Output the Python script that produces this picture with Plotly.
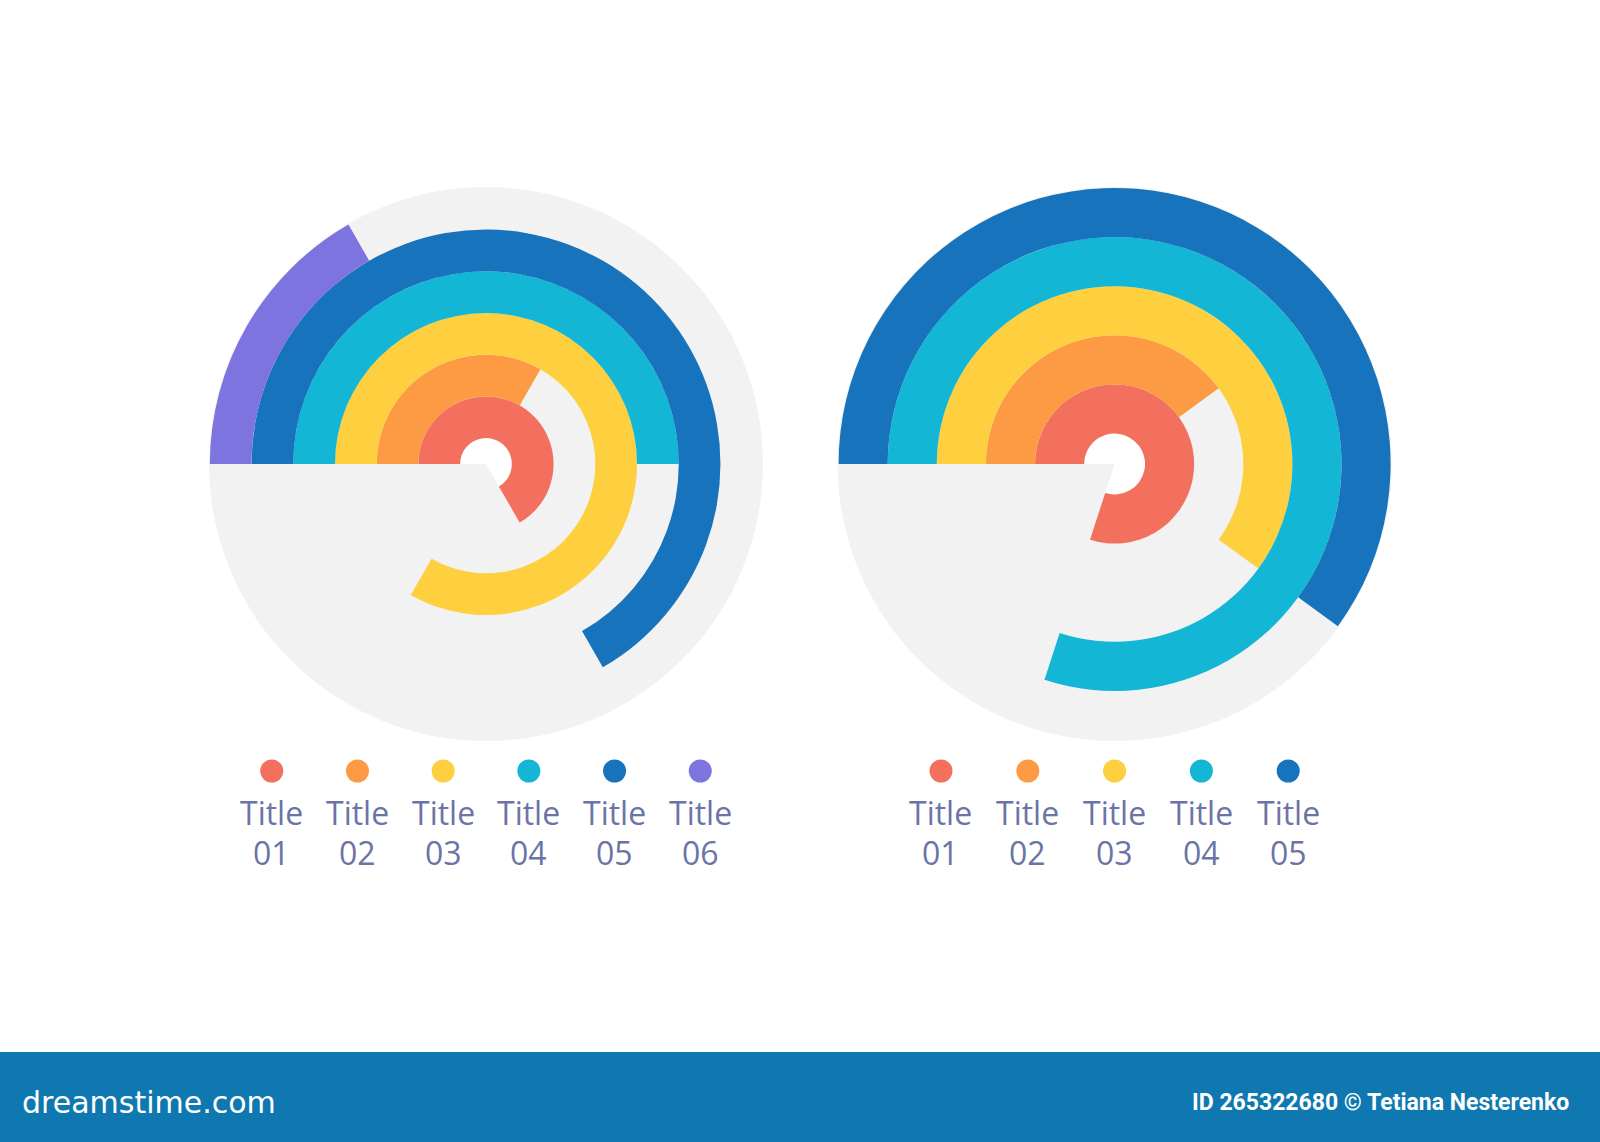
import plotly.graph_objects as go

# ---------------- data ----------------
left_labels = ["01", "02", "03", "04", "05", "06"]
left_values = [66.7, 33.3, 83.3, 50.0, 66.7, 16.7]      # share of full circle, %
right_labels = ["01", "02", "03", "04", "05"]
right_values = [80.0, 40.0, 60.0, 80.0, 60.0]            # share of full circle, %
series_title = "Title"

colors = ["#f4705e", "#fd9a44", "#fecf3f", "#14b6d6", "#1873bd", "#7d74e0"]

# ---------------- styling ----------------
W, H = 1600, 1142
HOLE = 0.62          # inner hole radius, in ring-width units
GRAY = "#f2f2f2"
TEXT = "#6b74a6"
FONT = "Open Sans"

fig = go.Figure()


def add_chart(values, polar_id):
    spans = [v / 100.0 * 360.0 for v in values]
    n = len(values)
    # white hole wedge under the innermost ring
    fig.add_trace(go.Barpolar(
        r=[HOLE], base=[0], theta=[spans[0] / 2], width=[spans[0]],
        marker=dict(color="#ffffff", line=dict(width=0)),
        subplot=polar_id, showlegend=False, hoverinfo="skip"))
    fig.add_trace(go.Barpolar(
        r=[1] * n,
        base=[HOLE + i for i in range(n)],
        theta=[s / 2 for s in spans],
        width=spans,
        marker=dict(color=colors[:n], line=dict(width=0)),
        subplot=polar_id, showlegend=False,
        hovertemplate="%{customdata}%<extra></extra>", customdata=values))
    return HOLE + n


def polar_layout(domain_x, domain_y, rmax):
    hidden = dict(showline=False, showgrid=False, showticklabels=False, ticks="")
    return dict(
        domain=dict(x=domain_x, y=domain_y),
        bgcolor=GRAY, barmode="overlay",
        angularaxis=dict(rotation=180, direction="clockwise", **hidden),
        radialaxis=dict(range=[0, rmax + 0.02], **hidden),
    )


R_PX = 277
cx_l, cx_r, cy = 486, 1114.6, 464

rl = add_chart(left_values, "polar")
rr = add_chart(right_values, "polar2")


def dom(cx):
    return [(cx - R_PX) / W, (cx + R_PX) / W]


ydom = [(H - cy - R_PX) / H, (H - cy + R_PX) / H]

# ---------------- legends ----------------
def add_legend(labels, xa, ya):
    n = len(labels)
    fig.add_trace(go.Scatter(
        x=list(range(n)), y=[0] * n, mode="markers",
        marker=dict(size=23, color=colors[:n]),
        xaxis=xa, yaxis=ya, showlegend=False, hoverinfo="skip"))
    for i, lab in enumerate(labels):
        fig.add_annotation(x=i, y=(H - 812) / H, xref=xa, yref="paper",
                           text=series_title, showarrow=False,
                           font=dict(family=FONT, size=32, color=TEXT),
                           xanchor="center", yanchor="middle")
        fig.add_annotation(x=i, y=(H - 852) / H, xref=xa, yref="paper",
                           text=lab, showarrow=False,
                           font=dict(family=FONT, size=32, color=TEXT),
                           xanchor="center", yanchor="middle")


add_legend(left_labels, "x", "y")
add_legend(right_labels, "x2", "y2")

slot_l, slot_r = 85.7, 86.8
leg_y = [(H - 791) / H, (H - 751) / H]
ax_hidden = dict(visible=False, showgrid=False, zeroline=False, fixedrange=True)

fig.update_layout(
    width=W, height=H,
    margin=dict(l=0, r=0, t=0, b=0),
    paper_bgcolor="#ffffff", plot_bgcolor="rgba(0,0,0,0)",
    polar=polar_layout(dom(cx_l), ydom, rl),
    polar2=polar_layout(dom(cx_r), ydom, rr),
    xaxis=dict(domain=[(cx_l - 3 * slot_l) / W, (cx_l + 3 * slot_l) / W],
               range=[-0.5, len(left_labels) - 0.5], **ax_hidden),
    yaxis=dict(domain=leg_y, range=[-1, 1], **ax_hidden),
    xaxis2=dict(domain=[(cx_r - 2.5 * slot_r) / W, (cx_r + 2.5 * slot_r) / W],
                range=[-0.5, len(right_labels) - 0.5], anchor="y2", **ax_hidden),
    yaxis2=dict(domain=leg_y, range=[-1, 1], anchor="x2", **ax_hidden),
    showlegend=False,
)

# ---------------- footer banner ----------------
fig.add_shape(type="rect", xref="paper", yref="paper",
              x0=0, x1=1, y0=0, y1=(H - 1052) / H,
              fillcolor="#0f78b0", line=dict(width=0), layer="above")
fig.add_annotation(x=20 / W, y=(H - 1102) / H, xref="paper", yref="paper",
                   text="dreamstime.com", showarrow=False,
                   xanchor="left", yanchor="middle",
                   font=dict(family="DejaVu Sans", size=30, color="#ffffff"))
fig.add_annotation(x=1571 / W, y=(H - 1102) / H, xref="paper", yref="paper",
                   text="<b>ID 265322680 © Tetiana Nesterenko</b>", showarrow=False,
                   xanchor="right", yanchor="middle",
                   font=dict(family="Roboto", size=23, color="#ffffff"))

fig.write_html("out.html",
               config={"displayModeBar": False},
               post_script="document.body.style.margin='0';"
                           "document.body.style.overflow='hidden';")
